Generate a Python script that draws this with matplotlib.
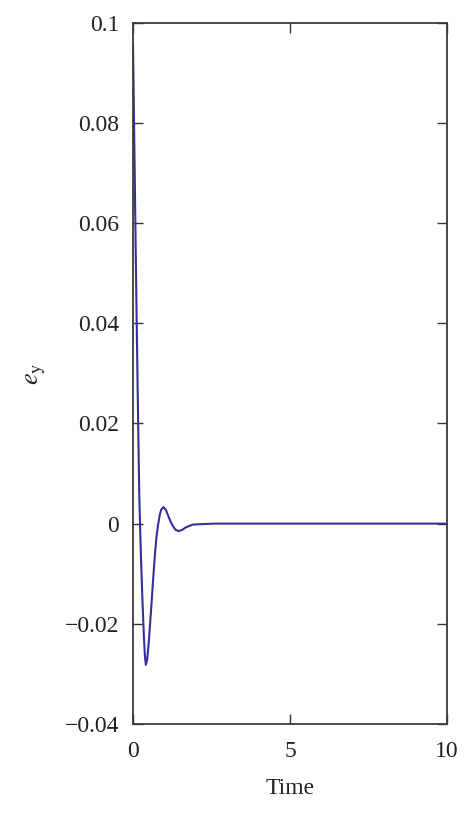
import matplotlib
matplotlib.use("Agg")
import matplotlib.pyplot as plt

# error response e_y
time = [0, 0.05, 0.1, 0.15, 0.2, 0.25, 0.3, 0.35, 0.38, 0.41, 0.45, 0.5, 0.55, 0.6,
        0.65, 0.7, 0.75, 0.8, 0.85, 0.9, 0.97, 1.05, 1.15, 1.25, 1.35, 1.45,
        1.55, 1.7, 1.9, 2.2, 2.6, 3.0, 5.0, 10.0]
e_y = [0.0958, 0.072, 0.048, 0.026, 0.0055, -0.006, -0.0152, -0.023, -0.0265, -0.0282,
       -0.0272, -0.0238, -0.0195, -0.0150, -0.0103, -0.0060, -0.0025, -0.0002,
       0.0017, 0.0028, 0.0033, 0.0027, 0.0011, -0.0003, -0.0012, -0.0015,
       -0.0013, -0.0007, -0.0002, -0.0001, 0.0, 0.0, 0.0, 0.0]

xticks = [0, 5, 10]
yticks = [-0.04, -0.02, 0, 0.02, 0.04, 0.06, 0.08, 0.1]
ytick_labels = ["\u22120.04", "\u22120.02", "0", "0.02", "0.04", "0.06", "0.08", "0.1"]

plt.rcParams["font.family"] = ["Liberation Serif", "DejaVu Serif"]
plt.rcParams["mathtext.fontset"] = "stix"

fig = plt.figure(figsize=(4.74, 8.15), dpi=100)
ax = fig.add_axes([0.2806, 0.1117, 0.6624, 0.8604])

ax.plot(time, e_y, color="#34309a", linewidth=1.5)

ax.set_xlim(0, 10)
ax.set_ylim(-0.04, 0.1)
ax.set_xticks(xticks)
ax.set_xticklabels([str(v) for v in xticks])
ax.set_yticks(yticks)
ax.set_yticklabels(ytick_labels)

ax.tick_params(direction="in", length=7, width=1.0, color="#333333",
               top=True, right=True, labelsize=17, labelcolor="#222222", pad=10)
ax.tick_params(axis="x", pad=12)
for s in ax.spines.values():
    s.set_color("#3a3a3a")
    s.set_linewidth(1.3)

ax.set_xlabel("Time", fontsize=17, labelpad=12, color="#222222")
ax.set_ylabel(r"$e_{\mathrm{y}}$", fontsize=19, labelpad=12, color="#222222")

fig.savefig("out.png", dpi=100)
